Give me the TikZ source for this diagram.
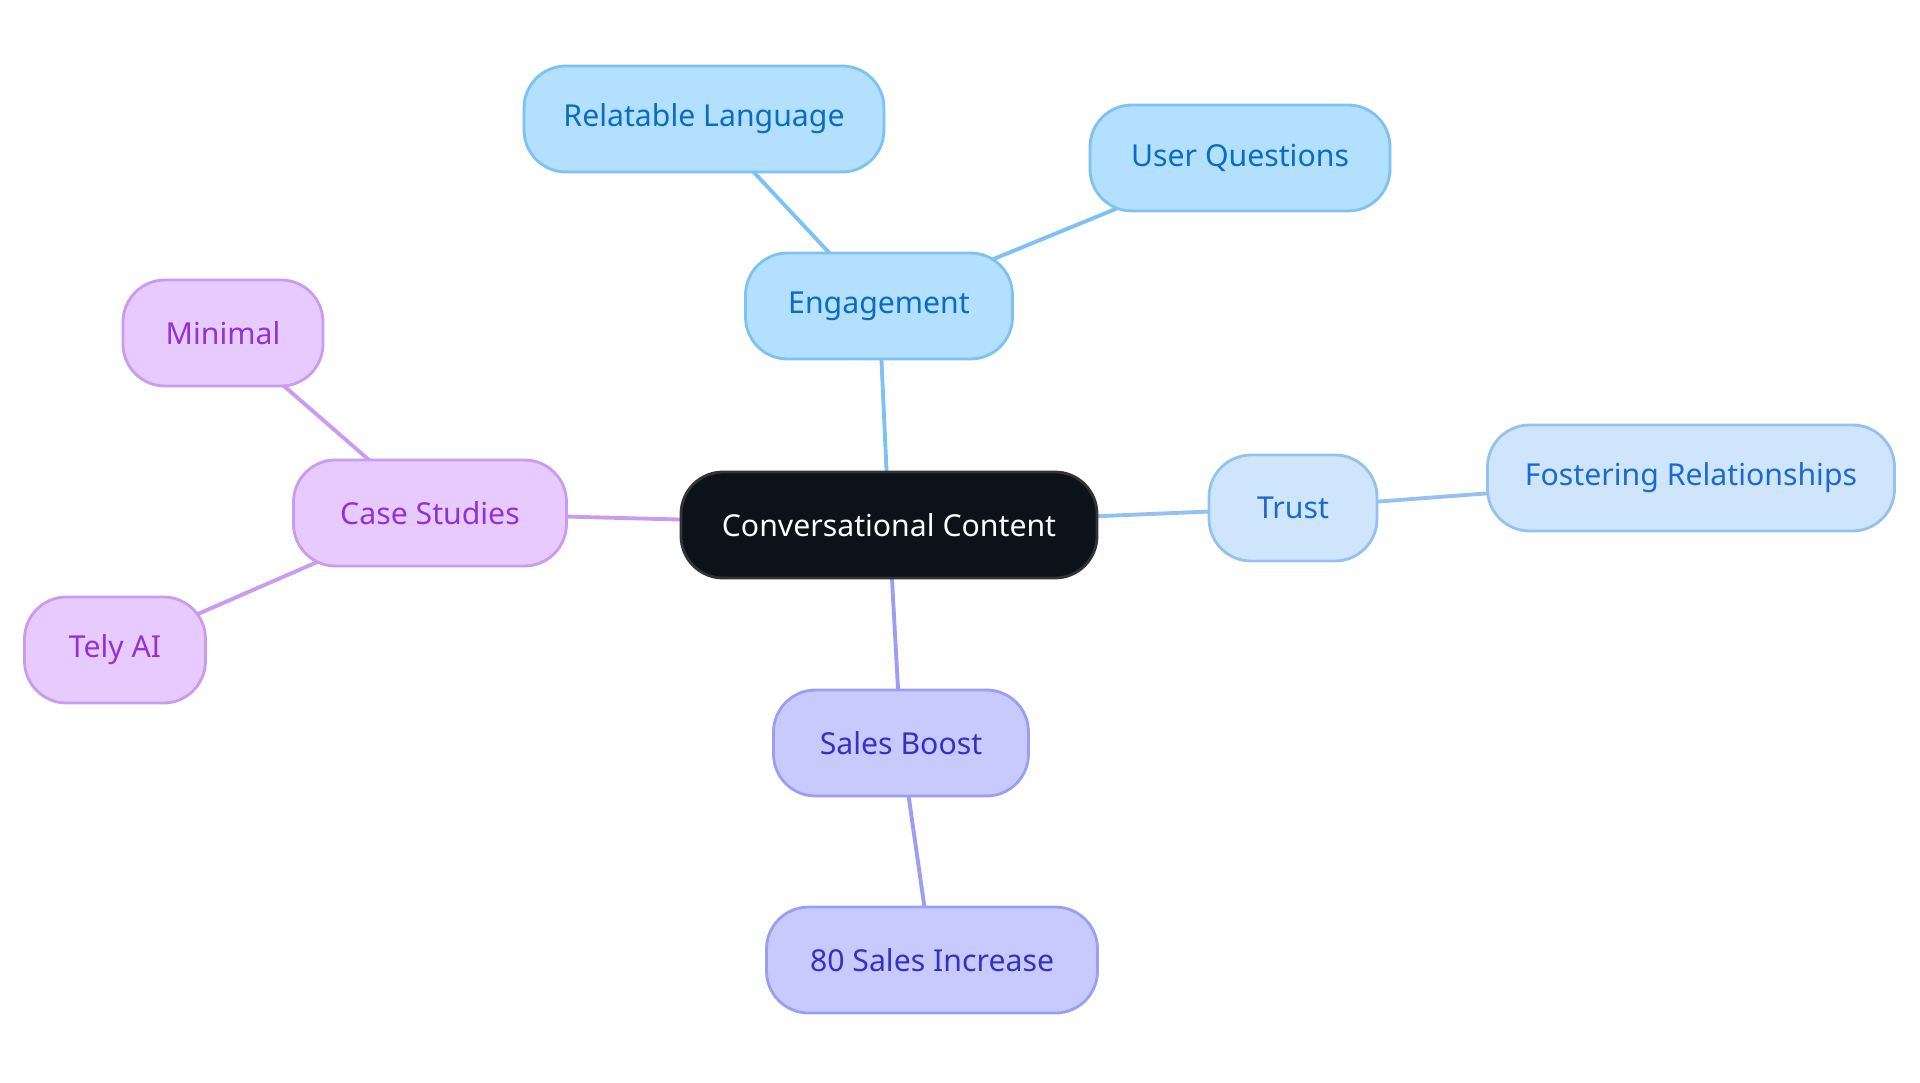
\documentclass[tikz,border=0pt]{standalone}
\usepackage{fontspec}
\setmainfont{Noto Sans}
\usetikzlibrary{backgrounds}
\definecolor{engfill}{HTML}{B3E0FF}
\definecolor{engdraw}{HTML}{7DC2F2}
\definecolor{engtext}{HTML}{0A6CC2}
\definecolor{trustfill}{HTML}{CFE5FC}
\definecolor{trustdraw}{HTML}{94C2F0}
\definecolor{trusttext}{HTML}{1B6BCF}
\definecolor{casefill}{HTML}{E8CBFE}
\definecolor{casedraw}{HTML}{C99CF0}
\definecolor{casetext}{HTML}{9431D6}
\definecolor{salesfill}{HTML}{C8CAFE}
\definecolor{salesdraw}{HTML}{9B9EF2}
\definecolor{salestext}{HTML}{3431C4}
\definecolor{rootfill}{HTML}{0B121A}
\begin{document}
\begin{tikzpicture}[
  topic/.style={rectangle, rounded corners=0.42cm, minimum height=1.06cm, line width=0.8pt, font=\fontsize{8.6}{10}\selectfont, inner sep=0pt},
  root/.style={topic, draw=black!80, fill=rootfill, text=white},
  eng/.style={topic, draw=engdraw, fill=engfill, text=engtext},
  trust/.style={topic, draw=trustdraw, fill=trustfill, text=trusttext},
  case/.style={topic, draw=casedraw, fill=casefill, text=casetext},
  sales/.style={topic, draw=salesdraw, fill=salesfill, text=salestext},
  link/.style={line width=1.1pt}
]
  \useasboundingbox (0,0) rectangle (19.2,-10.83);
  \node[root, minimum width=4.16cm] (cc) at (8.89,-5.25) {Conversational Content};
  \node[eng, minimum width=2.67cm] (eng) at (8.79,-3.06) {Engagement};
  \node[eng, minimum width=3.60cm] (rl) at (7.04,-1.19) {Relatable Language};
  \node[eng, minimum width=3.00cm] (uq) at (12.40,-1.58) {User Questions};
  \node[trust, minimum width=1.68cm] (trust) at (12.93,-5.08) {Trust};
  \node[trust, minimum width=4.07cm] (fr) at (16.91,-4.78) {Fostering Relationships};
  \node[case, minimum width=2.73cm] (cs) at (4.30,-5.13) {Case Studies};
  \node[case, minimum width=2.00cm] (min) at (2.23,-3.33) {Minimal};
  \node[case, minimum width=1.81cm] (tely) at (1.15,-6.50) {Tely AI};
  \node[sales, minimum width=2.55cm] (sb) at (9.01,-7.43) {Sales Boost};
  \node[sales, minimum width=3.31cm] (inc) at (9.32,-9.60) {80 Sales Increase};
  % links run centre to centre, hidden under the filled nodes
  \begin{scope}[on background layer]
    \draw[link, engdraw] (cc.center) -- (eng.center);
    \draw[link, engdraw] (eng.center) -- (rl.center);
    \draw[link, engdraw] (eng.center) -- (uq.center);
    \draw[link, trustdraw] (cc.center) -- (trust.center);
    \draw[link, trustdraw] (trust.center) -- (fr.center);
    \draw[link, casedraw] (cc.center) -- (cs.center);
    \draw[link, casedraw] (cs.center) -- (min.center);
    \draw[link, casedraw] (cs.center) -- (tely.center);
    \draw[link, salesdraw] (cc.center) -- (sb.center);
    \draw[link, salesdraw] (sb.center) -- (inc.center);
  \end{scope}
\end{tikzpicture}
\end{document}
